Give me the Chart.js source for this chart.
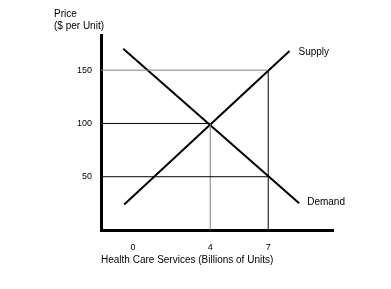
<!DOCTYPE html>
<html>
<head>
<meta charset="utf-8">
<script src="https://cdn.jsdelivr.net/npm/chart.js@4"></script>
<style>
    html, body { margin: 0; padding: 0; background: #fff; }
</style>
</head>
<body>
<canvas id="chart1" width="391" height="289"></canvas>
<script>
// supply & demand for health care services

const xTicks = [0, 4, 7];
const yTicks = [50, 100, 150];
const xRange = [-1.65, 10.35];
const yRange = [0, 183];

const supplyX = [-0.45, 8.1];
const supplyY = [24, 168];
const demandX = [-0.5, 8.6];
const demandY = [170, 25];

// equilibrium and the quantity read at the low / high price
const eqQty = 4;
const eqPrice = 100;
const otherQty = 7;
const lowPrice = 50;
const highPrice = 150;

const FONT = '"Liberation Sans", Arial, sans-serif';

function pts(xs, ys) {
    return xs.map((x, i) => ({ x: x, y: ys[i] }));
}

function guide(xs, ys, color) {
    return {
        data: pts(xs, ys),
        borderColor: color,
        borderWidth: 1,
        pointRadius: 0
    };
}

const annotate = {
    id: "annotate",
    afterDraw(chart) {
        const { ctx, scales: { x, y } } = chart;
        ctx.save();
        ctx.fillStyle = "#000";
        ctx.font = "10px " + FONT;
        ctx.textBaseline = "middle";
        ctx.textAlign = "left";
        ctx.fillText("Price", 54, 14);
        ctx.fillText("($ per Unit)", 54, 26);
        ctx.fillText("Supply", x.getPixelForValue(supplyX[1]) + 9, y.getPixelForValue(supplyY[1]) + 1);
        ctx.fillText("Demand", x.getPixelForValue(demandX[1]) + 8, y.getPixelForValue(demandY[1]) - 1);
        ctx.restore();
    }
};

const ctx = document.getElementById("chart1").getContext("2d");

new Chart(ctx, {
    type: "line",
    data: {
        datasets: [
            guide([xRange[0], otherQty], [highPrice, highPrice], "#808080"),
            guide([xRange[0], eqQty], [eqPrice, eqPrice], "#000"),
            guide([xRange[0], otherQty], [lowPrice, lowPrice], "#000"),
            guide([eqQty, eqQty], [0, eqPrice], "#808080"),
            guide([otherQty, otherQty], [0, highPrice], "#000"),
            {
                label: "Supply",
                data: pts(supplyX, supplyY),
                borderColor: "#000",
                borderWidth: 2,
                pointRadius: 0
            },
            {
                label: "Demand",
                data: pts(demandX, demandY),
                borderColor: "#000",
                borderWidth: 2,
                pointRadius: 0
            }
        ]
    },
    options: {
        responsive: false,
        animation: false,
        layout: { padding: { top: 35, right: 58, left: 0, bottom: 23 } },
        plugins: {
            legend: { display: false },
            tooltip: { enabled: false }
        },
        scales: {
            x: {
                type: "linear",
                min: xRange[0],
                max: xRange[1],
                afterBuildTicks: s => { s.ticks = xTicks.map(v => ({ value: v })); },
                afterFit: s => { s.height = 36; },
                grid: { display: false, drawTicks: false },
                border: { color: "#000", width: 3 },
                ticks: {
                    font: { family: FONT, size: 9 },
                    color: "#000",
                    padding: 12,
                    maxRotation: 0,
                    autoSkip: false
                },
                title: {
                    display: true,
                    text: "Health Care Services (Billions of Units)",
                    align: "start",
                    font: { family: FONT, size: 10 },
                    color: "#000",
                    padding: { top: 3, bottom: 0 }
                }
            },
            y: {
                type: "linear",
                min: yRange[0],
                max: yRange[1],
                afterBuildTicks: s => { s.ticks = yTicks.map(v => ({ value: v })); },
                afterFit: s => { s.width = 101; },
                grid: { display: false, drawTicks: false },
                border: { color: "#000", width: 3 },
                ticks: {
                    font: { family: FONT, size: 9 },
                    color: "#000",
                    padding: 9
                }
            }
        }
    },
    plugins: [annotate]
});
</script>
</body>
</html>
